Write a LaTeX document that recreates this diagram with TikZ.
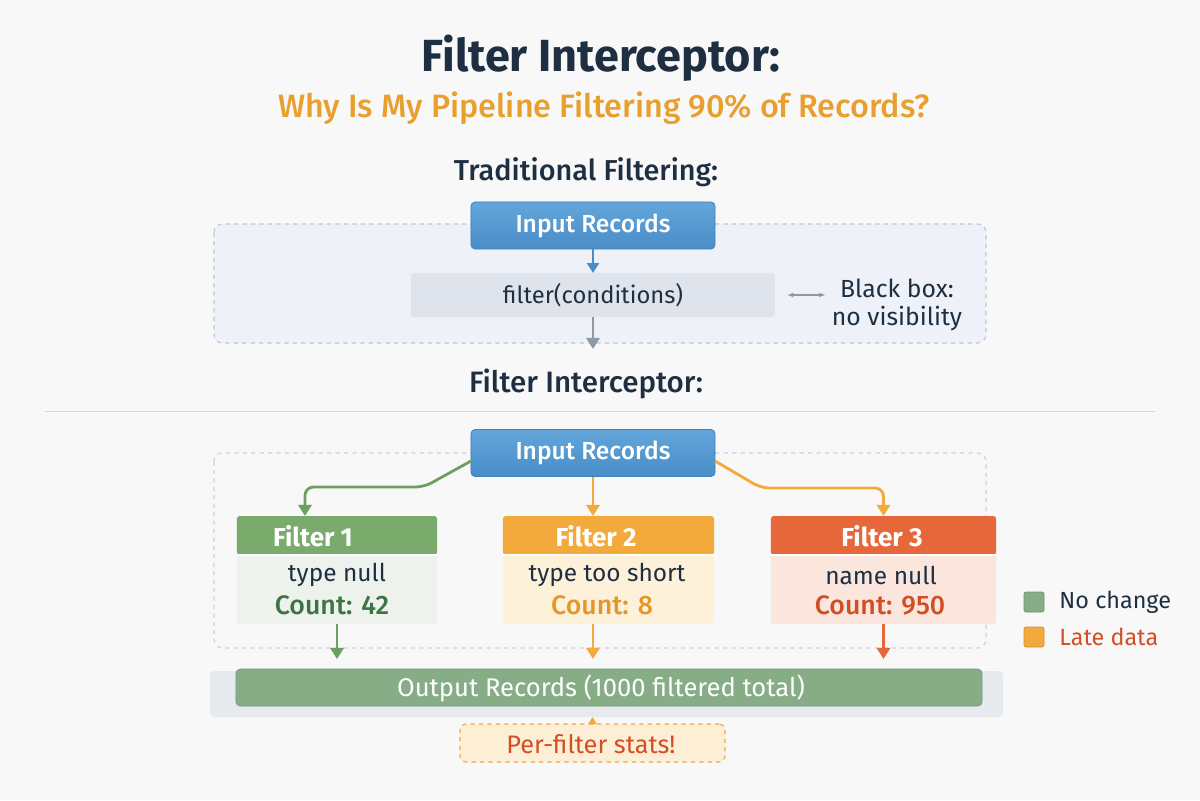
\documentclass[tikz,border=0pt]{standalone}
\usepackage{fontspec}
\setmainfont{Fira Sans}
\newfontfamily\medium{Fira Sans Medium}
\usetikzlibrary{arrows.meta, calc, positioning}
\definecolor{navy}{HTML}{1E2F42}
\definecolor{gold}{HTML}{E89F2E}
\definecolor{blueA}{HTML}{62A6DB}
\definecolor{blueB}{HTML}{4A8DC8}
\definecolor{blueE}{HTML}{3F83BE}
\definecolor{panelfill}{HTML}{EEF2F8}
\definecolor{paneldash}{HTML}{B9C8DB}
\definecolor{fltfill}{HTML}{DFE4EC}
\definecolor{greyarr}{HTML}{8D98A8}
\definecolor{gH}{HTML}{7BAA6D}
\definecolor{gL}{HTML}{6E9F61}
\definecolor{gB}{HTML}{EEF2EC}
\definecolor{gT}{HTML}{3E7444}
\definecolor{oH}{HTML}{F3AA3C}
\definecolor{oB}{HTML}{FDF1D9}
\definecolor{oT}{HTML}{E3972B}
\definecolor{rH}{HTML}{E6683A}
\definecolor{rB}{HTML}{FBE6DE}
\definecolor{rT}{HTML}{D24E24}
\definecolor{outbar}{HTML}{87AD87}
\definecolor{band}{HTML}{E6EAEE}
\definecolor{statsfill}{HTML}{FDEFD5}
\definecolor{statsdash}{HTML}{F0A848}
\definecolor{bg}{HTML}{F8F8F9}
\newcommand{\fs}[1]{\fontsize{#1}{#1}\selectfont}

\begin{document}
\begin{tikzpicture}[x=0.025cm, y=-0.025cm,
    every node/.style={inner sep=0pt, outer sep=0pt},
    inbox/.style={rectangle, rounded corners=3pt, draw=blueE, line width=0.6pt,
                  top color=blueA, bottom color=blueB, text=white,
                  minimum width=6.1cm, minimum height=1.175cm, font=\fs{17.5}\medium},
    panel/.style={rounded corners=6pt, draw=paneldash, dashed, line width=0.8pt},
    head/.style={rectangle, rounded corners=2pt, minimum height=0.975cm},
    headtxt/.style={text=white, font=\fs{18.5}\bfseries},
    body/.style={rectangle, rounded corners=2pt, minimum height=2.7cm},
    bodytxt/.style={text=navy, font=\fs{17.4}},
    cnt/.style={font=\fs{19}\medium},
    garr/.style={line width=2pt, -{Triangle[length=8pt, width=9.5pt]}},
    legsq/.style={rectangle, rounded corners=1.5pt, minimum size=0.5cm, line width=0.5pt}
  ]
  % background and page size
  \fill[bg] (0,0) rectangle (1200,800);

  % headings
  \node[text=navy, font=\fs{32}\bfseries] (title) at (601,58) {Filter Interceptor:};
  \node[text=gold, font=\fs{23}\medium] (sub) at (604,108) {Why Is My Pipeline Filtering 90\% of Records?};
  \node[text=navy, font=\fs{20.5}\medium] (trad) at (586,172) {Traditional Filtering:};

  % traditional filter
  \fill[panelfill, rounded corners=6pt] (214,224) rectangle (986,343);
  \draw[panel] (214,224) rectangle (986,343);
  \node[inbox] (in1) at (593,225.5) {Input Records};
  \node[rectangle, rounded corners=2pt, fill=fltfill, minimum width=9.1cm, minimum height=1.1cm,
        text=navy, font=\fs{16.9}] (flt) at (593,295) {filter(conditions)};
  \node[text=navy, font=\fs{17.6}, align=center] (bbox) at (897,305) {Black box:\\[2pt]no visibility};
  \coordinate (out1) at (593,349);
  \draw[blueB, line width=1.6pt, -{Triangle[length=7pt, width=8.5pt]}] (in1) -- (flt);
  \draw[greyarr, line width=1.8pt, -{Triangle[length=8pt, width=9.5pt]}] (flt) -- (out1);
  \draw[greyarr, line width=0.8pt, {Stealth[length=4.5pt]}-{Stealth[length=4.5pt]},
        shorten <=9pt, shorten >=5pt] (flt.east) -- (flt.east -| bbox.west);

  % filter interceptor
  \node[text=navy, font=\fs{21}\medium] (icpt) at (586,384) {Filter Interceptor:};
  \draw[paneldash!70, line width=0.5pt] (45,411) -- (1155,411);
  \draw[panel, paneldash!80] (214,453) rectangle (986,648);
  \node[inbox] (in2) at (593,453) {Input Records};

  \foreach \n/\x/\w/\c/\hx/\ax/\cx/\why/\num in {
        1/337/5/g/313/337/332/type null/42,
        2/608.5/5.275/o/596/607/602/type too short/8,
        3/883.5/5.625/r/882/881/880/name null/950} {
    \node[body, fill=\c B, minimum width=\w cm] (f\n) at (\x,570) {};
    \node[head, fill=\c H, minimum width=\w cm] (f\n h) at (\x,535.5) {};
    \draw[white, line width=0.8pt] (f\n h.south west) -- (f\n h.south east);
    \node[headtxt] (f\n t) at (\hx,536) {Filter \n};
    \node[bodytxt] (f\n a) at (\ax,575) {\why};
    \node[cnt, text=\c T] (f\n c) at (\cx,605) {Count: \num};
  }

  % fan-out from the input
  \draw[gL, garr, rounded corners=6pt] ([yshift=-0.2cm]in2.west) -- (424,487)
        -| ([xshift=-0.8cm]f1h.north);
  \draw[oH, garr] (in2.south) -- (in2.south |- f2h.north);
  \draw[oH, garr, rounded corners=6pt] ([yshift=-0.2cm]in2.east) -- (761,488) -| (f3h.north);

  % output
  \node[rectangle, rounded corners=3pt, fill=band, minimum width=19.825cm, minimum height=1.15cm]
        (bnd) at (606.5,694) {};
  \node[rectangle, rounded corners=3pt, fill=outbar, draw=outbar!85!black, line width=0.4pt,
        minimum width=18.65cm, minimum height=0.925cm] (outr) at (609,687.5) {};
  \node[text=white, font=\fs{18.2}] (outt) at (601,688) {Output Records (1000 filtered total)};
  \draw[gL, garr, shorten >=0.25cm] (f1.south) -- (f1.south |- outr.north);
  \draw[oH, garr, shorten >=0.25cm] (f2.south -| in2.south) -- (in2.south |- outr.north);
  \draw[rH, garr, shorten >=0.25cm] (f3.south) -- (f3.south |- outr.north);

  \node[rectangle, rounded corners=4pt, fill=statsfill, draw=statsdash, dashed, line width=0.8pt,
        minimum width=6.625cm, minimum height=0.95cm] (stats) at (592.5,743) {};
  \node[text=rT, font=\fs{18}] (statst) at (591,744) {Per-filter stats!};
  \draw[oH, line width=0.8pt, -{Triangle[length=5pt, width=6pt]}] (stats.north) -- (stats.north |- bnd.south);

  % legend
  \node[legsq, fill=outbar, draw=outbar!85!black] (lg1) at (1034,602) {};
  \node[legsq, fill=oH, draw=oH!85!black] (lg2) at (1034,637) {};
  \node[right=11pt of lg1, text=navy, font=\fs{16.6}] (lg1t) {No change};
  \node[right=11pt of lg2, text=rT, font=\fs{16.6}] (lg2t) {Late data};
\end{tikzpicture}
\end{document}
